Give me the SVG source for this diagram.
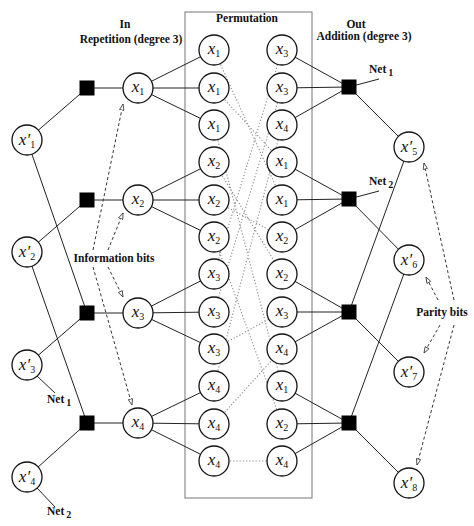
<svg xmlns="http://www.w3.org/2000/svg" width="474" height="526" viewBox="0 0 474 526">
<style>
.bg{fill:#fff}
.n circle{fill:#fff;stroke:#111;stroke-width:1.3}
.sq{fill:#000}
.lbl{font-family:"Liberation Serif","Times New Roman",serif;font-weight:bold;font-size:11.5px;fill:#111}
.var{font-family:"Liberation Serif","Times New Roman",serif;font-style:italic;font-size:17px;fill:#111}
.sub{font-size:10px;font-style:normal}
.edge{stroke:#222;stroke-width:1;fill:none}
.perm{stroke:#8a8a8a;stroke-width:1.1;stroke-dasharray:1.2 2;fill:none}
.dash{stroke:#333;stroke-width:1;stroke-dasharray:3 2.5;fill:none;marker-end:url(#ah)}
</style>
<defs>
<marker id="ah" viewBox="0 0 8 6" refX="7.5" refY="3" markerWidth="7" markerHeight="5.5" markerUnits="userSpaceOnUse" orient="auto">
<path d="M0.5,0.5 L7.5,3 L0.5,5.5 z" fill="#fff" stroke="#333" stroke-width="0.9"/>
</marker>
</defs>
<rect class="bg" x="0" y="0" width="474" height="526"/>
<rect x="185" y="12" width="127" height="486" fill="none" stroke="#777" stroke-width="1"/>
<g id="connectors">
<path class="edge" d="M27,140 L87,88 M27,140 L87,313 M27,252 L87,200 M27,252 L87,423 M27,365 L87,313 M27,477 L87,423"/>
<path class="edge" d="M37,376 L55,393 M37,488 L55,507"/>
<path class="edge" d="M87,88 H138 M87,200 H138 M87,313 H138 M87,423 H138"/>
<path class="edge" d="M138,88 L214,50 M138,88 L214,88 M138,88 L214,125 M138,200 L214,162 M138,200 L214,200 M138,200 L214,237 M138,313 L214,274 M138,313 L214,312 M138,313 L214,349 M138,423 L214,386 M138,423 L214,424 M138,423 L214,461"/>
<path class="perm" d="M214,50 L282,200 M214,88 L282,162 M214,125 L282,386 M214,162 L282,274 M214,200 L282,237 M214,237 L282,424 M214,274 L282,50 M214,312 L282,88 M214,349 L282,312 M214,386 L282,125 M214,424 L282,349 M214,461 L282,461"/>
<path class="edge" d="M282,50 L349,87 M282,88 L349,87 M282,125 L349,87 M282,162 L349,199 M282,200 L349,199 M282,237 L349,199 M282,274 L349,312 M282,312 L349,312 M282,349 L349,312 M282,386 L349,423 M282,424 L349,423 M282,461 L349,423"/>
<path class="edge" d="M349,87 L409,147 M349,199 L409,260 M349,312 L409,372 M349,423 L409,483 M409,147 L349,312 M409,260 L349,423"/>
<path class="edge" d="M349,87 L379,79 M349,199 L379,191"/>
<path class="dash" d="M93,250 L123,104"/>
<path class="dash" d="M108,250 L123,213"/>
<path class="dash" d="M108,267 L123,297"/>
<path class="dash" d="M93,267 L132,405"/>
<path class="dash" d="M454,300 L424,163"/>
<path class="dash" d="M438,300 L426,277"/>
<path class="dash" d="M440,325 L424,353"/>
<path class="dash" d="M454,325 L417,465"/>
</g>
<g id="sq1"><rect class="sq" x="79.5" y="80.5" width="15" height="15"/></g>
<g id="sq2"><rect class="sq" x="79.5" y="192.5" width="15" height="15"/></g>
<g id="sq3"><rect class="sq" x="79.5" y="305.5" width="15" height="15"/></g>
<g id="sq4"><rect class="sq" x="79.5" y="415.5" width="15" height="15"/></g>
<g id="sq5"><rect class="sq" x="341.5" y="79.5" width="15" height="15"/></g>
<g id="sq6"><rect class="sq" x="341.5" y="191.5" width="15" height="15"/></g>
<g id="sq7"><rect class="sq" x="341.5" y="304.5" width="15" height="15"/></g>
<g id="sq8"><rect class="sq" x="341.5" y="415.5" width="15" height="15"/></g>
<g id="xp1" class="n"><circle cx="27" cy="140" r="15"/><text class="var" x="27" y="145" text-anchor="middle">x′<tspan class="sub" dy="3">1</tspan></text></g>
<g id="xp2" class="n"><circle cx="27" cy="252" r="15"/><text class="var" x="27" y="257" text-anchor="middle">x′<tspan class="sub" dy="3">2</tspan></text></g>
<g id="xp3" class="n"><circle cx="27" cy="365" r="15"/><text class="var" x="27" y="370" text-anchor="middle">x′<tspan class="sub" dy="3">3</tspan></text></g>
<g id="xp4" class="n"><circle cx="27" cy="477" r="15"/><text class="var" x="27" y="482" text-anchor="middle">x′<tspan class="sub" dy="3">4</tspan></text></g>
<g id="xp5" class="n"><circle cx="409" cy="147" r="15"/><text class="var" x="409" y="152" text-anchor="middle">x′<tspan class="sub" dy="3">5</tspan></text></g>
<g id="xp6" class="n"><circle cx="409" cy="260" r="15"/><text class="var" x="409" y="265" text-anchor="middle">x′<tspan class="sub" dy="3">6</tspan></text></g>
<g id="xp7" class="n"><circle cx="409" cy="372" r="15"/><text class="var" x="409" y="377" text-anchor="middle">x′<tspan class="sub" dy="3">7</tspan></text></g>
<g id="xp8" class="n"><circle cx="409" cy="483" r="15"/><text class="var" x="409" y="488" text-anchor="middle">x′<tspan class="sub" dy="3">8</tspan></text></g>
<g id="x1" class="n"><circle cx="138" cy="88" r="15"/><text class="var" x="138" y="92" text-anchor="middle">x<tspan class="sub" dy="3">1</tspan></text></g>
<g id="x2" class="n"><circle cx="138" cy="200" r="15"/><text class="var" x="138" y="204" text-anchor="middle">x<tspan class="sub" dy="3">2</tspan></text></g>
<g id="x3" class="n"><circle cx="138" cy="313" r="15"/><text class="var" x="138" y="317" text-anchor="middle">x<tspan class="sub" dy="3">3</tspan></text></g>
<g id="x4" class="n"><circle cx="138" cy="423" r="15"/><text class="var" x="138" y="427" text-anchor="middle">x<tspan class="sub" dy="3">4</tspan></text></g>
<g id="L0" class="n"><circle cx="214" cy="50" r="15"/><text class="var" x="214" y="54" text-anchor="middle">x<tspan class="sub" dy="3">1</tspan></text></g>
<g id="L1" class="n"><circle cx="214" cy="88" r="15"/><text class="var" x="214" y="92" text-anchor="middle">x<tspan class="sub" dy="3">1</tspan></text></g>
<g id="L2" class="n"><circle cx="214" cy="125" r="15"/><text class="var" x="214" y="129" text-anchor="middle">x<tspan class="sub" dy="3">1</tspan></text></g>
<g id="L3" class="n"><circle cx="214" cy="162" r="15"/><text class="var" x="214" y="166" text-anchor="middle">x<tspan class="sub" dy="3">2</tspan></text></g>
<g id="L4" class="n"><circle cx="214" cy="200" r="15"/><text class="var" x="214" y="204" text-anchor="middle">x<tspan class="sub" dy="3">2</tspan></text></g>
<g id="L5" class="n"><circle cx="214" cy="237" r="15"/><text class="var" x="214" y="241" text-anchor="middle">x<tspan class="sub" dy="3">2</tspan></text></g>
<g id="L6" class="n"><circle cx="214" cy="274" r="15"/><text class="var" x="214" y="278" text-anchor="middle">x<tspan class="sub" dy="3">3</tspan></text></g>
<g id="L7" class="n"><circle cx="214" cy="312" r="15"/><text class="var" x="214" y="316" text-anchor="middle">x<tspan class="sub" dy="3">3</tspan></text></g>
<g id="L8" class="n"><circle cx="214" cy="349" r="15"/><text class="var" x="214" y="353" text-anchor="middle">x<tspan class="sub" dy="3">3</tspan></text></g>
<g id="L9" class="n"><circle cx="214" cy="386" r="15"/><text class="var" x="214" y="390" text-anchor="middle">x<tspan class="sub" dy="3">4</tspan></text></g>
<g id="L10" class="n"><circle cx="214" cy="424" r="15"/><text class="var" x="214" y="428" text-anchor="middle">x<tspan class="sub" dy="3">4</tspan></text></g>
<g id="L11" class="n"><circle cx="214" cy="461" r="15"/><text class="var" x="214" y="465" text-anchor="middle">x<tspan class="sub" dy="3">4</tspan></text></g>
<g id="R0" class="n"><circle cx="282" cy="50" r="15"/><text class="var" x="282" y="54" text-anchor="middle">x<tspan class="sub" dy="3">3</tspan></text></g>
<g id="R1" class="n"><circle cx="282" cy="88" r="15"/><text class="var" x="282" y="92" text-anchor="middle">x<tspan class="sub" dy="3">3</tspan></text></g>
<g id="R2" class="n"><circle cx="282" cy="125" r="15"/><text class="var" x="282" y="129" text-anchor="middle">x<tspan class="sub" dy="3">4</tspan></text></g>
<g id="R3" class="n"><circle cx="282" cy="162" r="15"/><text class="var" x="282" y="166" text-anchor="middle">x<tspan class="sub" dy="3">1</tspan></text></g>
<g id="R4" class="n"><circle cx="282" cy="200" r="15"/><text class="var" x="282" y="204" text-anchor="middle">x<tspan class="sub" dy="3">1</tspan></text></g>
<g id="R5" class="n"><circle cx="282" cy="237" r="15"/><text class="var" x="282" y="241" text-anchor="middle">x<tspan class="sub" dy="3">2</tspan></text></g>
<g id="R6" class="n"><circle cx="282" cy="274" r="15"/><text class="var" x="282" y="278" text-anchor="middle">x<tspan class="sub" dy="3">2</tspan></text></g>
<g id="R7" class="n"><circle cx="282" cy="312" r="15"/><text class="var" x="282" y="316" text-anchor="middle">x<tspan class="sub" dy="3">3</tspan></text></g>
<g id="R8" class="n"><circle cx="282" cy="349" r="15"/><text class="var" x="282" y="353" text-anchor="middle">x<tspan class="sub" dy="3">4</tspan></text></g>
<g id="R9" class="n"><circle cx="282" cy="386" r="15"/><text class="var" x="282" y="390" text-anchor="middle">x<tspan class="sub" dy="3">1</tspan></text></g>
<g id="R10" class="n"><circle cx="282" cy="424" r="15"/><text class="var" x="282" y="428" text-anchor="middle">x<tspan class="sub" dy="3">2</tspan></text></g>
<g id="R11" class="n"><circle cx="282" cy="461" r="15"/><text class="var" x="282" y="465" text-anchor="middle">x<tspan class="sub" dy="3">4</tspan></text></g>
<g id="labels">
<text class="lbl" x="125" y="28" text-anchor="middle">In</text>
<text class="lbl" x="131" y="43" text-anchor="middle">Repetition (degree 3)</text>
<text class="lbl" x="247" y="22" text-anchor="middle">Permutation</text>
<text class="lbl" x="356" y="28" text-anchor="middle">Out</text>
<text class="lbl" x="364" y="40" text-anchor="middle">Addition (degree 3)</text>
<text class="lbl" x="369" y="73">Net<tspan class="sub" dx="2" dy="3">1</tspan></text>
<text class="lbl" x="369" y="185">Net<tspan class="sub" dx="2" dy="3">2</tspan></text>
<text class="lbl" x="47" y="403">Net<tspan class="sub" dx="2" dy="3">1</tspan></text>
<text class="lbl" x="47" y="515">Net<tspan class="sub" dx="2" dy="3">2</tspan></text>
<text class="lbl" x="114" y="262" text-anchor="middle">Information bits</text>
<text class="lbl" x="442" y="316" text-anchor="middle">Parity bits</text>
</g>
</svg>
